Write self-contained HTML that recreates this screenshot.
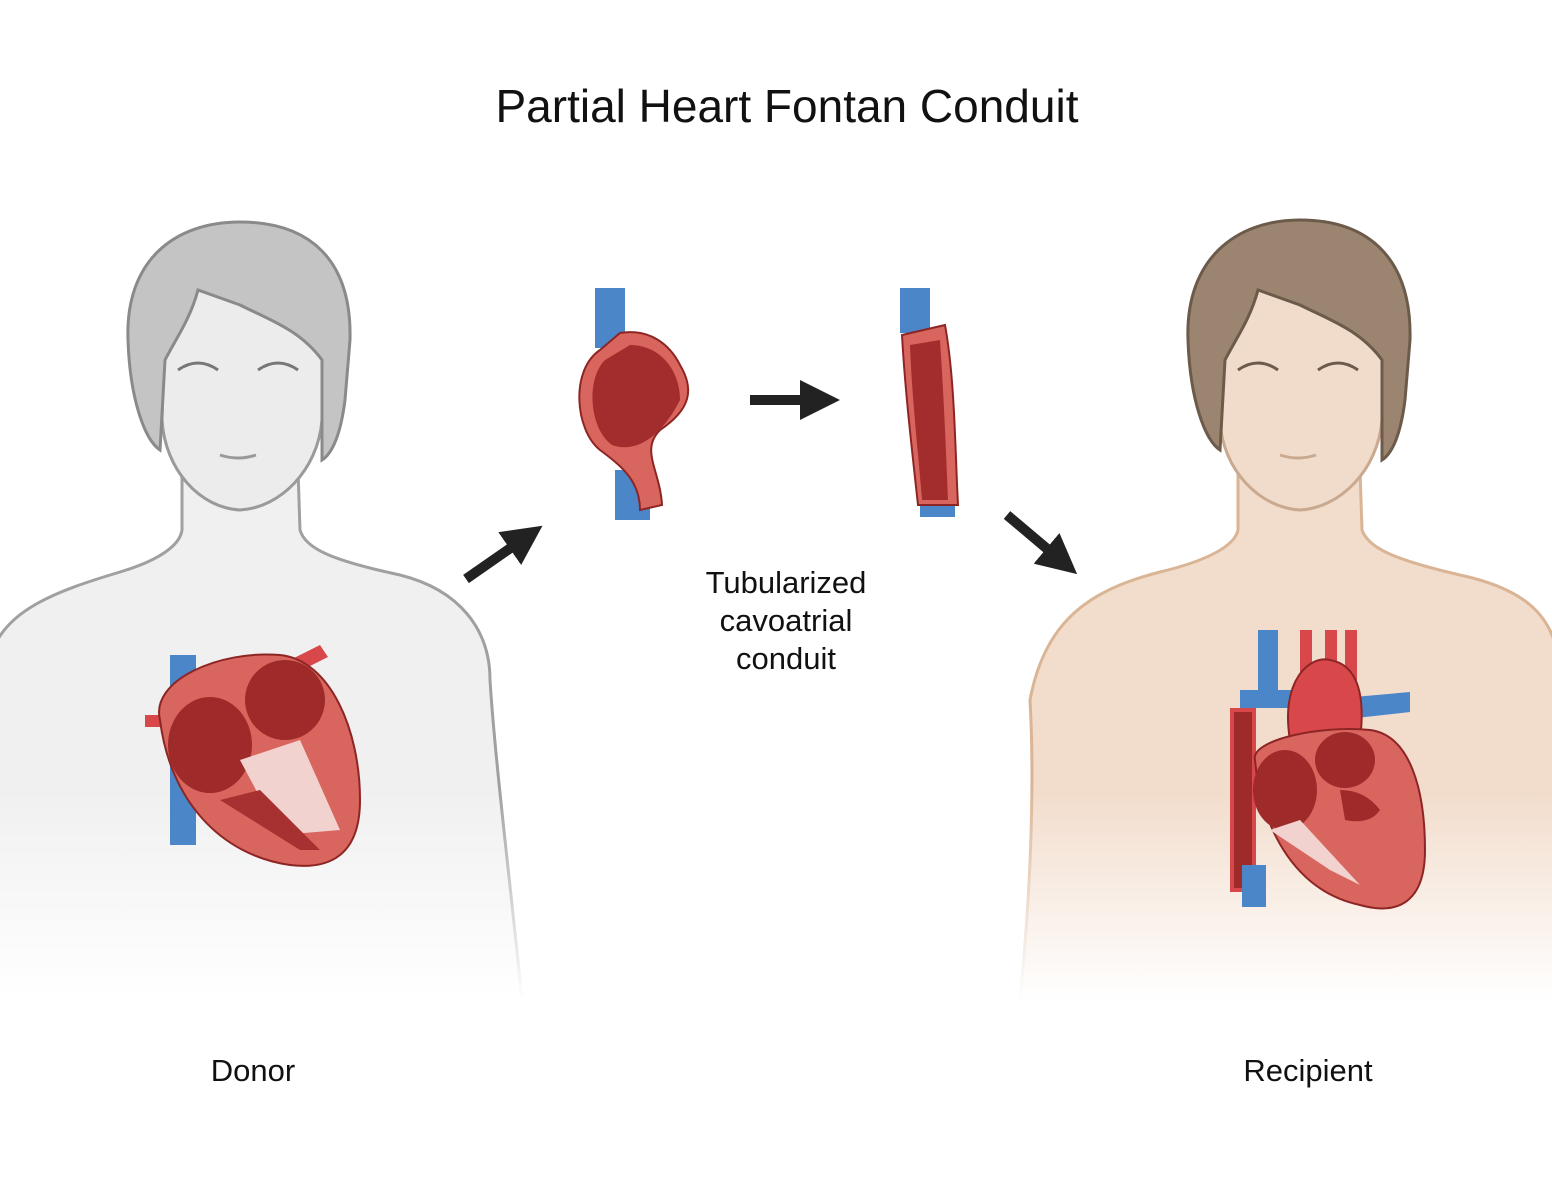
<!DOCTYPE html>
<html><head><meta charset="utf-8"><style>
html,body{margin:0;padding:0;background:#fff;}
svg{display:block;}
text{font-family:"Liberation Sans",sans-serif;fill:#111;}
</style></head><body>
<svg width="1552" height="1200" viewBox="0 0 1552 1200">
<defs>
<linearGradient id="fadeG" x1="0" y1="0" x2="0" y2="1">
<stop offset="0.6" stop-color="#f0f0f0"/><stop offset="1" stop-color="#fff"/></linearGradient>
<linearGradient id="fadeS" x1="0" y1="0" x2="0" y2="1">
<stop offset="0.6" stop-color="#f2dccb"/><stop offset="1" stop-color="#fff"/></linearGradient>
<linearGradient id="strG" x1="0" y1="0" x2="0" y2="1">
<stop offset="0.6" stop-color="#a0a0a0"/><stop offset="1" stop-color="#fff"/></linearGradient>
<linearGradient id="strS" x1="0" y1="0" x2="0" y2="1">
<stop offset="0.6" stop-color="#d9b596"/><stop offset="1" stop-color="#fff"/></linearGradient>
<marker id="ah" markerWidth="4" markerHeight="4" refX="1.5" refY="2" orient="auto" markerUnits="strokeWidth"><path d="M0,0 L4,2 L0,4 z" fill="#222"/></marker>
</defs>

<text x="787" y="122" font-size="46" text-anchor="middle">Partial Heart Fontan Conduit</text>

<!-- Donor -->
<g>
<path d="M-10,660 C0,610 60,590 120,572 C160,560 180,545 182,530 L182,470 L298,470 L300,530 C305,548 330,560 400,575 C460,590 490,630 490,680 C495,760 510,880 522,1000 L-10,1000 Z" fill="url(#fadeG)" stroke="url(#strG)" stroke-width="3"/>
<path d="M165,320 C165,260 200,240 240,240 C285,240 322,265 322,330 L322,420 C318,470 280,508 240,510 C200,508 165,470 162,420 Z" fill="#ececec" stroke="#9a9a9a" stroke-width="3"/>
<path d="M128,340 C125,260 175,222 240,222 C310,222 352,260 350,340 L345,400 C340,440 330,455 322,460 L322,360 C300,330 270,320 240,305 L198,290 C190,320 175,340 165,360 L160,450 C145,440 130,400 128,340 Z" fill="#c4c4c4" stroke="#8a8a8a" stroke-width="3"/>
<path d="M178,370 q20,-14 40,0 M258,370 q20,-14 40,0" stroke="#777" stroke-width="3" fill="none"/>
<path d="M220,455 q18,6 36,0" stroke="#999" stroke-width="3" fill="none"/>
<rect x="170" y="655" width="26" height="190" fill="#4a86c8"/>
<path d="M290,660 l30,-15 l8,12 l-30,15z M145,715 l30,0 l0,12 l-30,0z" fill="#d8484a"/>
<path d="M160,720 C150,680 220,650 280,655 C330,660 360,730 360,800 C360,855 330,870 290,865 C220,855 170,800 160,720 Z" fill="#d9665e" stroke="#8e2525" stroke-width="2"/>
<ellipse cx="210" cy="745" rx="42" ry="48" fill="#9e2a2a"/>
<ellipse cx="285" cy="700" rx="40" ry="40" fill="#9e2a2a"/>
<path d="M240,760 L300,740 L340,830 L280,835 Z" fill="#f2d2cf"/>
<path d="M220,800 L300,850 L320,850 L260,790 Z" fill="#a73131"/>
</g>

<!-- Recipient -->
<g>
<path d="M1030,700 C1045,620 1090,590 1160,572 C1210,560 1235,545 1238,530 L1238,470 L1360,470 L1362,530 C1368,548 1395,560 1460,575 C1530,590 1560,620 1560,680 L1560,1000 L1020,1000 C1030,900 1035,790 1030,700 Z" fill="url(#fadeS)" stroke="url(#strS)" stroke-width="3"/>
<path d="M1222,320 C1222,260 1258,240 1300,240 C1345,240 1382,265 1382,330 L1382,420 C1378,470 1340,508 1300,510 C1260,508 1222,470 1220,420 Z" fill="#f1dccb" stroke="#c9a98f" stroke-width="3"/>
<path d="M1188,340 C1185,260 1235,220 1300,220 C1370,220 1412,260 1410,340 L1405,400 C1400,440 1390,455 1382,460 L1382,360 C1360,330 1330,320 1300,305 L1258,290 C1250,320 1235,340 1225,360 L1220,450 C1205,440 1190,400 1188,340 Z" fill="#9c8570" stroke="#6c5a4a" stroke-width="3"/>
<path d="M1238,370 q20,-14 40,0 M1318,370 q20,-14 40,0" stroke="#6c5a4a" stroke-width="3" fill="none"/>
<path d="M1280,455 q18,6 36,0" stroke="#c9a98f" stroke-width="3" fill="none"/>
<path d="M1258,630 l20,0 l0,70 l-20,0z M1240,690 l60,0 l0,18 l-60,0z M1320,700 l90,-8 l0,20 l-90,10z" fill="#4a86c8"/>
<path d="M1300,630 l12,0 l0,60 l-12,0z M1325,630 l12,0 l0,50 l-12,0z M1345,630 l12,0 l0,50 l-12,0z" fill="#d8484a"/>
<path d="M1290,740 C1280,680 1310,655 1330,660 C1360,665 1365,700 1360,740 Z" fill="#d8484a" stroke="#8e2525" stroke-width="2"/>
<rect x="1232" y="710" width="22" height="180" fill="#9e2a2a" stroke="#d8484a" stroke-width="4"/>
<rect x="1242" y="865" width="24" height="42" fill="#4a86c8"/>
<path d="M1255,760 C1250,740 1320,725 1370,730 C1410,735 1425,790 1425,850 C1425,905 1395,915 1360,905 C1290,890 1260,820 1255,760 Z" fill="#d9665e" stroke="#8e2525" stroke-width="2"/>
<ellipse cx="1285" cy="790" rx="32" ry="40" fill="#9e2a2a"/>
<ellipse cx="1345" cy="760" rx="30" ry="28" fill="#9e2a2a"/>
<path d="M1270,830 L1330,870 L1360,885 L1300,820 Z" fill="#f2d2cf"/>
<path d="M1340,790 q25,0 40,20 q-10,15 -35,10z" fill="#9e2a2a"/>
</g>

<!-- Atrium piece -->
<rect x="595" y="288" width="30" height="60" fill="#4a86c8"/>
<rect x="615" y="470" width="35" height="50" fill="#4a86c8"/>
<path d="M600,350 C570,370 575,430 600,450 C620,465 640,480 640,510 L662,505 C660,470 640,450 660,430 C690,410 695,390 680,365 C670,345 650,328 620,333 Z" fill="#d9665e" stroke="#8e2525" stroke-width="2"/>
<path d="M605,360 C585,380 590,430 612,445 C640,455 665,430 680,400 C680,370 660,345 630,345 Z" fill="#a32d2d"/>

<!-- Tube -->
<rect x="900" y="288" width="30" height="45" fill="#4a86c8"/>
<rect x="920" y="495" width="35" height="22" fill="#4a86c8"/>
<path d="M902,335 L945,325 C955,380 955,450 958,505 L918,505 C912,450 905,390 902,335 Z" fill="#d9665e" stroke="#8e2525" stroke-width="2"/>
<path d="M910,345 L940,340 C944,400 946,450 948,500 L922,500 C918,450 912,400 910,345 Z" fill="#a32d2d"/>

<!-- Arrows -->
<line x1="466" y1="579" x2="522" y2="540" stroke="#222" stroke-width="10" marker-end="url(#ah)"/>
<line x1="750" y1="400" x2="815" y2="400" stroke="#222" stroke-width="10" marker-end="url(#ah)"/>
<line x1="1007" y1="515" x2="1058" y2="558" stroke="#222" stroke-width="10" marker-end="url(#ah)"/>

<text x="786" y="593" font-size="31" text-anchor="middle">Tubularized</text>
<text x="786" y="631" font-size="31" text-anchor="middle">cavoatrial</text>
<text x="786" y="669" font-size="31" text-anchor="middle">conduit</text>
<text x="253" y="1081" font-size="31" text-anchor="middle">Donor</text>
<text x="1308" y="1081" font-size="31" text-anchor="middle">Recipient</text>
</svg>
</body></html>
